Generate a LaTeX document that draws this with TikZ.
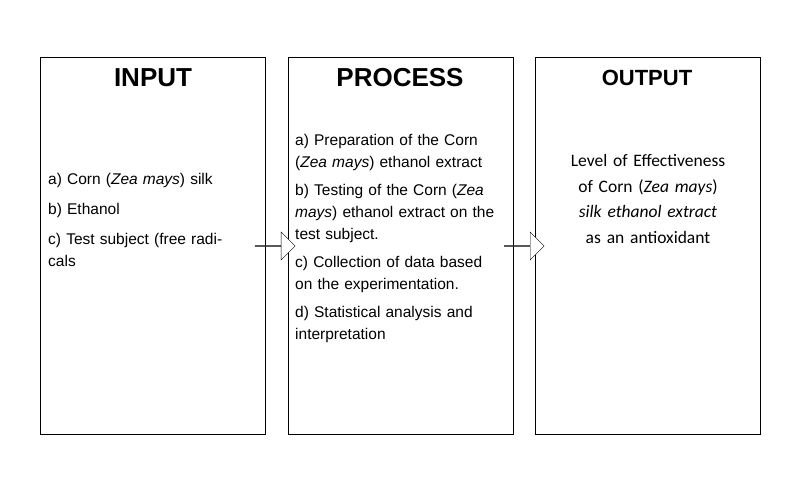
\documentclass[tikz,border=0pt]{standalone}
\usepackage{fontspec}
\setmainfont{Liberation Sans}
\newfontfamily\calibri{Carlito}
\usetikzlibrary{shapes.arrows}
\begin{document}
\begin{tikzpicture}[x=1pt,y=1pt,
    column/.style={rectangle, draw, minimum width=225pt, minimum height=377pt,
        anchor=north west},
    title/.style={font=\bfseries\fontsize{26}{30}\selectfont, anchor=center},
    listing/.style={text width=185pt, align=left, inner sep=0pt, anchor=north west,
        font=\fontsize{15.5}{22}\selectfont},
    blockarrow/.style={single arrow, draw, fill=white, minimum height=40pt,
        minimum width=28pt, single arrow head extend=7pt, inner sep=0pt}
]
\useasboundingbox (0,0) rectangle (800,496);
% the three columns
\node (InputBox) [column] at (40,439) {};
\node (ProcessBox) [column] at (288,439) {};
\node (OutputBox) [column] at (535,439) {};
\node (InputTitle) [title] at (153,418) {INPUT};
\node (ProcessTitle) [title] at (400,418) {PROCESS};
\node (OutputTitle) [title, font=\bfseries\fontsize{22}{26}\selectfont] at (647,418) {OUTPUT};
% contents
\node (InputList) [listing] at (48,323) {%
  a) Corn (\textit{Zea mays}) silk\par\vspace{8pt}
  b) Ethanol\par\vspace{8pt}
  c) Test subject (free radicals};
\node (ProcessList) [listing, text width=208pt] at (295,362) {%
  a) Preparation of the Corn (\textit{Zea mays}) ethanol extract\par\vspace{6pt}
  b) Testing of the Corn (\textit{Zea mays}) ethanol extract on the test subject.\par\vspace{6pt}
  c) Collection of data based on the experimentation.\par\vspace{6pt}
  d) Statistical analysis and interpretation};
\node (OutputText) [text width=195pt, align=center, inner sep=0pt,
    font=\calibri\fontsize{17.5}{25.5}\selectfont] at (648,297) {%
  Level of Effectiveness of Corn (\textit{Zea mays}) \textit{silk ethanol extract} as an antioxidant};
% arrows between the columns
\node (ArrowOne) [blockarrow] at (275,250) {};
\node (ArrowTwo) [blockarrow] at (524,250) {};
\end{tikzpicture}
\end{document}
